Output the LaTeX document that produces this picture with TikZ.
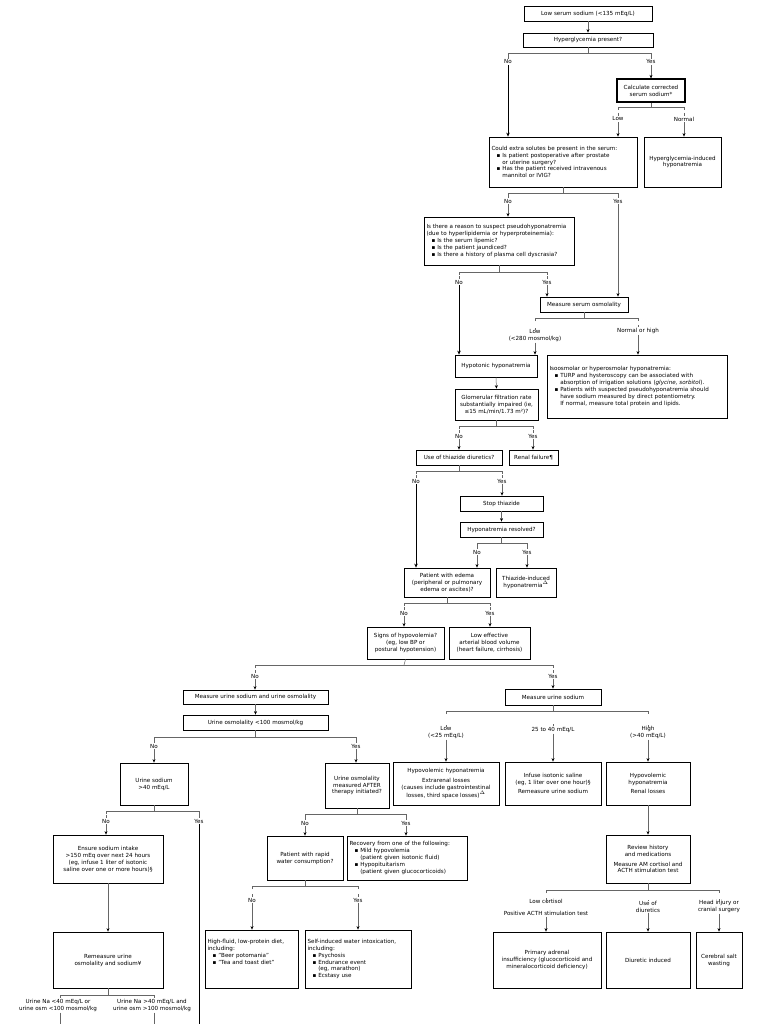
\documentclass[tikz,border=0pt]{standalone}
\usepackage{fontspec}
\setmainfont{DejaVu Sans}
\usetikzlibrary{arrows.meta}
\newcommand\fork[4]{\draw[conn] (#1.south) -- (#1.south |- 0,#2);\draw[conn] (#3,{#2+3}) -- (#3,#2) -- (#4,#2) -- (#4,{#2+3});}
\newcommand\yn[6][arr]{\node[lab] (#2) at (#3,#4) {#5};\draw[conn] (#3,{#4-6}) -- (#2.north);\draw[#1] (#2.south) -- (#2.south |- #6.north);}
\newcommand\bl{\hspace*{5pt}▪\hspace{2pt}}
\newcommand\bi{\hspace*{5pt}\phantom{▪}\hspace{2pt}}
\begin{document}
\begin{tikzpicture}[x=1pt,y=-1pt,
  every node/.style={font=\fontsize{5.6}{6.9}\selectfont},
  box/.style={draw, line width=0.75pt, inner sep=1.5pt, align=center},
  lbox/.style={box, align=left},
  lab/.style={inner sep=0.8pt, align=center},
  conn/.style={draw=black!60, line width=0.5pt},
  arr/.style={conn, -{Stealth[length=3.5pt,width=3pt,color=black]}},
  arrthick/.style={draw=black, line width=1pt, -{Stealth[length=4pt,width=3.5pt]}}]
\useasboundingbox (0,0) rectangle (768,1024);
\fill[white] (0,0) rectangle (768,1024);
% top
\node[box,minimum width=128,minimum height=15] (n1) at (588,13.5) {Low serum sodium (<135 mEq/L)};
\node[box,minimum width=130,minimum height=14] (n2) at (588,40) {Hyperglycemia present?};
\draw[arr] (n1.south) -- (n2.north);
\node[box,line width=1.2pt,minimum width=68,minimum height=23] (n3) at (651,90.5) {Calculate corrected\\serum sodium*};
\node[lbox,minimum width=148,minimum height=50,text width=143] (n4) at (563,162) {Could extra solutes be present in the serum:\\\bl Is patient postoperative after prostate\\\bi or uterine surgery?\\\bl Has the patient received intravenous\\\bi mannitol or IVIG?};
\node[box,minimum width=77,minimum height=50] (n5) at (682.5,162) {Hyperglycemia-induced\\hyponatremia};
\fork{n2}{53}{508}{651}
\yn[arrthick]{a1}{508}{62}{No}{n4}
\yn{a2}{651}{62}{Yes}{n3}
\fork{n3}{107}{618}{684}
\yn{a3}{618}{119}{Low}{n4}
\yn{a4}{684}{119}{Normal}{n5}
% pseudo
\node[lbox,minimum width=150,minimum height=48,text width=145] (n6) at (499,241) {Is there a reason to suspect pseudohyponatremia\\(due to hyperlipidemia or hyperproteinemia):\\\bl Is the serum lipemic?\\\bl Is the patient jaundiced?\\\bl Is there a history of plasma cell dyscrasia?};
\node[box,minimum width=88,minimum height=15] (n7) at (584,304.5) {Measure serum osmolality};
\fork{n4}{193}{508}{618}
\yn{a5}{508}{201}{No}{n6}
\node[lab] (a6) at (618,201) {Yes};
\draw[conn] (618,195) -- (a6.north);
\draw[arr] (a6.south) -- (a6.south |- n7.north);
\node[box,minimum width=82,minimum height=22] (n8) at (496,366) {Hypotonic hyponatremia};
\node[lbox,minimum width=180,minimum height=63,text width=175] (n9) at (637,386.5) {Isoosmolar or hyperosmolar hyponatremia:\\\bl TURP and hysteroscopy can be associated with\\\bi absorption of irrigation solutions (\emph{glycine, sorbitol}).\\\bl Patients with suspected pseudohyponatremia should\\\bi have sodium measured by direct potentiometry.\\\bi If normal, measure total protein and lipids.};
\fork{n6}{272}{459}{547}
\yn[arrthick]{a7}{459}{282}{No}{n8}
\yn{a8}{547}{282}{Yes}{n7}
\fork{n7}{318}{535}{638}
\yn{a9}{535}{335.5}{Low\\(<280 mosmol/kg)}{n8}
\yn{a10}{638}{331}{Normal or high}{n9}
\node[box,minimum width=83,minimum height=31] (n10) at (496.5,404.5) {Glomerular filtration rate\\substantially impaired (ie,\\≤15 mL/min/1.73 m²)?};
\draw[arr] (n8.south) -- (n10.north);
\node[box,minimum width=86,minimum height=15] (n11) at (459,457.5) {Use of thiazide diuretics?};
\node[box,minimum width=49,minimum height=15] (n12) at (533.5,457.5) {Renal failure¶};
\fork{n10}{426}{459}{533}
\yn{a11}{459}{436}{No}{n11}
\yn{a12}{533}{436}{Yes}{n12}
\node[box,minimum width=83,minimum height=15] (n13) at (501.5,503.5) {Stop thiazide};
\node[box,minimum width=83,minimum height=15] (n14) at (501.5,529.5) {Hyponatremia resolved?};
\draw[arr] (n13.south) -- (n14.north);
\node[box,minimum width=86,minimum height=29] (n15) at (447,582.5) {Patient with edema\\(peripheral or pulmonary\\edema or ascites)?};
\node[box,minimum width=60,minimum height=29] (n16) at (526,582.5) {Thiazide-induced\\hyponatremia$^\Delta$};
\fork{n11}{471}{416}{502}
\yn[arrthick]{a13}{416}{481}{No}{n15}
\yn{a14}{502}{481}{Yes}{n13}
\fork{n14}{543}{477}{527}
\yn{a15}{477}{552}{No}{n15}
\yn{a16}{527}{552}{Yes}{n16}
\node[box,minimum width=77,minimum height=32] (n17) at (405.5,643) {Signs of hypovolemia?\\(eg, low BP or\\postural hypotension)};
\node[box,minimum width=81,minimum height=32] (n18) at (489.5,643) {Low effective\\arterial blood volume\\(heart failure, cirrhosis)};
\fork{n15}{603}{404}{490}
\yn{a17}{404}{613}{No}{n17}
\yn{a18}{490}{613}{Yes}{n18}
% lower
\node[box,minimum width=145,minimum height=14] (n19) at (255.5,697) {Measure urine sodium and urine osmolality};
\node[box,minimum width=145,minimum height=15] (n20) at (255.5,722.5) {Urine osmolality <100 mosmol/kg};
\draw[arr] (n19.south) -- (n20.north);
\node[box,minimum width=96,minimum height=16] (n21) at (553,697) {Measure urine sodium};
\draw[conn] (n17.south) -- (404,665);
\draw[conn] (255,668) -- (255,665) -- (553,665) -- (553,668);
\yn{a19}{255}{676}{No}{n19}
\yn{a20}{553}{676}{Yes}{n21}
\node[box,minimum width=68,minimum height=42] (n22) at (154,784) {Urine sodium\\>40 mEq/L};
\node[box,minimum width=64,minimum height=45] (n23) at (357,785.5) {Urine osmolality\\measured AFTER\\therapy initiated?};
\fork{n20}{737}{154}{356}
\yn{a21}{154}{746}{No}{n22}
\yn{a22}{356}{746}{Yes}{n23}
\node[box,minimum width=106,minimum height=43] (n24) at (446,783.5) {Hypovolemic hyponatremia\\[3pt]Extrarenal losses\\(causes include gastrointestinal\\losses, third space losses)$^\Delta$};
\node[box,minimum width=96,minimum height=43] (n25) at (553,783.5) {Infuse isotonic saline\\(eg, 1 liter over one hour)§\\[3pt]Remeasure urine sodium};
\node[box,minimum width=84,minimum height=43] (n26) at (648,783.5) {Hypovolemic\\hyponatremia\\[3pt]Renal losses};
\fork{n21}{711}{446}{648}
\yn{a23}{446}{732.5}{Low\\(<25 mEq/L)}{n24}
\yn{a24}{553}{730}{25 to 40 mEq/L}{n25}
\yn{a25}{648}{732.5}{High\\(>40 mEq/L)}{n26}
\node[box,minimum width=84,minimum height=48] (n27) at (648,859) {Review history\\and medications\\[3pt]Measure AM cortisol and\\ACTH stimulation test};
\draw[arr] (n26.south) -- (n27.north);
\node[box,minimum width=108,minimum height=56] (n28) at (547,960) {Primary adrenal\\insufficiency (glucocorticoid and\\mineralocorticoid deficiency)};
\node[box,minimum width=84,minimum height=56] (n29) at (648,960) {Diuretic induced};
\node[box,minimum width=46,minimum height=56] (n30) at (719,960) {Cerebral salt\\wasting};
\draw[conn] (n27.south) -- (648,890);
\draw[conn] (546,893) -- (546,890) -- (719,890) -- (719,893);
\yn{a26}{546}{907.5}{Low cortisol\\[5pt]Positive ACTH stimulation test}{n28}
\yn{a27}{648}{906.5}{Use of\\diuretics}{n29}
\yn{a28}{719}{906.5}{Head injury or\\cranial surgery}{n30}
% left bottom
\node[box,minimum width=110,minimum height=48] (n31) at (108,859) {Ensure sodium intake\\>150 mEq over next 24 hours\\(eg, infuse 1 liter of isotonic\\saline over one or more hours)§};
\node[box,minimum width=110,minimum height=56] (n32) at (108,960) {Remeasure urine\\osmolality and sodium¥};
\draw[arr] (n31.south) -- (n32.north);
\fork{n22}{811}{106}{199}
\yn{a29}{106}{821}{No}{n31}
\node[lab] (a30) at (199,821) {Yes};
\draw[conn] (199,814) -- (a30.north);
\coordinate (e1) at (199,1024);
\draw[conn,line width=0.8pt,draw=black] (a30.south) -- (e1);
\fork{n32}{995}{60}{154}
\node[lab] (a31) at (58,1005.5) {Urine Na <40 mEq/L or\\urine osm <100 mosmol/kg};
\node[lab] (a32) at (152,1005.5) {Urine Na >40 mEq/L and\\urine osm >100 mosmol/kg};
\coordinate (e2) at (60,1024);
\coordinate (e3) at (154,1024);
\draw[conn] (a31.south -| e2) -- (e2);
\draw[conn] (a32.south -| e3) -- (e3);
% middle bottom
\node[box,minimum width=76,minimum height=44] (n33) at (305,858) {Patient with rapid\\water consumption?};
\node[lbox,minimum width=120,minimum height=44,text width=115] (n34) at (407,858) {Recovery from one of the following:\\\bl Mild hypovolemia\\\bi (patient given isotonic fluid)\\\bl Hypopituitarism\\\bi (patient given glucocorticoids)};
\fork{n23}{814}{305}{406}
\yn{a33}{305}{823}{No}{n33}
\yn{a34}{406}{823}{Yes}{n34}
\node[lbox,minimum width=93,minimum height=58,text width=88] (n35) at (251.5,959) {High-fluid, low-protein diet,\\including:\\\bl "Beer potomania"\\\bl "Tea and toast diet"\\~\\~};
\node[lbox,minimum width=106,minimum height=58,text width=101] (n36) at (358,959) {Self-induced water intoxication,\\including:\\\bl Psychosis\\\bl Endurance event\\\bi (eg, marathon)\\\bl Ecstasy use};
\fork{n33}{886}{252}{358}
\yn{a35}{252}{900}{No}{n35}
\yn{a36}{358}{900}{Yes}{n36}
\end{tikzpicture}
\end{document}
